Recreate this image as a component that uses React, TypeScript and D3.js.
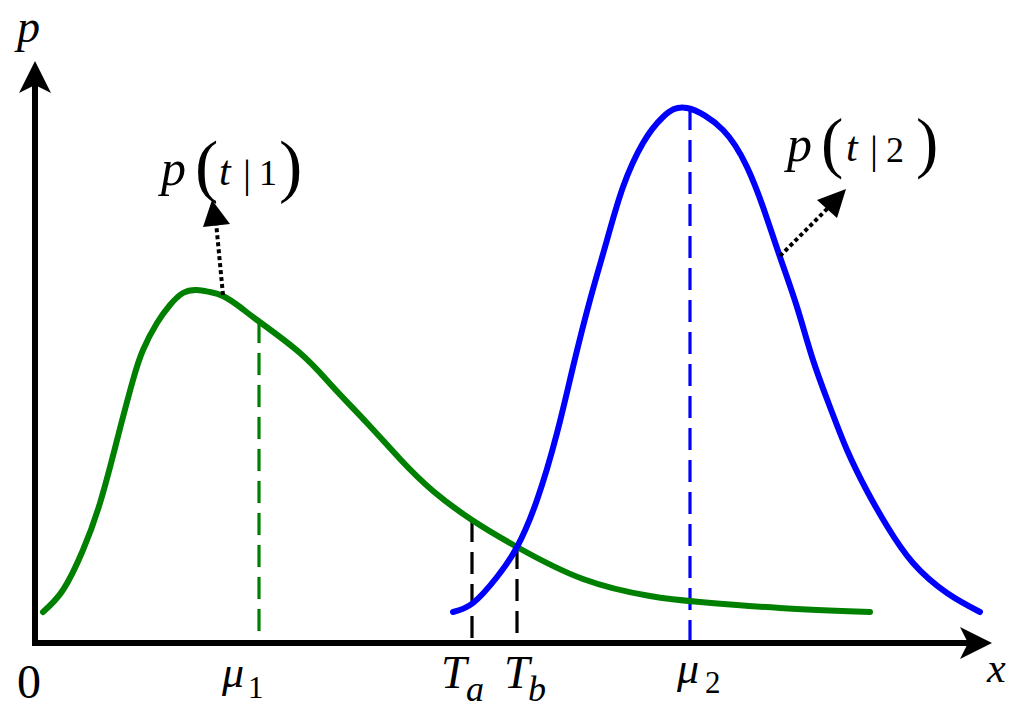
import React from "react";
import * as d3 from "d3";

// Curve p(t|1) (green), sampled points in data units
const greenX = [8, 28, 48, 65, 80, 88, 98, 108, 122, 135, 148, 162, 175, 188, 205, 222, 265, 298, 332, 365, 398, 437, 482, 548, 615, 665, 745, 835];
const greenY = [31, 53, 93, 140, 195, 226, 263, 293, 320, 338, 350, 353, 351, 347, 336, 323, 290, 256, 220, 184, 152, 123, 96, 64, 47, 41, 35, 31];

// Curve p(t|2) (blue)
const blueX = [418, 438, 462, 482, 502, 522, 538, 555, 572, 588, 608, 628, 652, 688, 712, 728, 745, 762, 778, 795, 812, 832, 852, 878, 912, 945];
const blueY = [31, 40, 66, 96, 143, 210, 276, 343, 403, 456, 500, 526, 535, 513, 476, 436, 386, 336, 283, 236, 193, 152, 117, 80, 50, 31];

// Reference vertical lines: position, height, colour
const markerNames = ["mu1", "Ta", "Tb", "mu2"];
const markerX = [224, 437, 482, 655];
const markerTop = [322, 123, 96, 535];
const markerColor = ["#008000", "#000000", "#000000", "#0000ff"];

const W = 1024;
const H = 712;

const x = d3.scaleLinear().domain([0, 957]).range([35, 992]);
const y = d3.scaleLinear().domain([0, 582]).range([643, 61]);

const line = d3
  .line<[number, number]>()
  .x((d) => x(d[0]))
  .y((d) => y(d[1]))
  .curve(d3.curveNatural);

const serif = "'Liberation Serif', 'Times New Roman', serif";

export default function App() {
  const green: [number, number][] = greenX.map((v, i) => [v, greenY[i]]);
  const blue: [number, number][] = blueX.map((v, i) => [v, blueY[i]]);
  const x0 = x(0);
  const y0 = y(0);
  const xEnd = x(957);
  const yEnd = y(582);

  const it = { fontFamily: serif, fontStyle: "italic" as const };
  const rm = { fontFamily: serif };

  return (
    <svg
      width={W}
      height={H}
      viewBox={`0 0 ${W} ${H}`}
      style={{ position: "absolute", left: 0, top: 0, background: "#fff" }}
    >
      <rect x={0} y={0} width={W} height={H} fill="#fff" />
      {markerX.map((mx, i) => (
        <line
          key={markerNames[i]}
          x1={x(mx)}
          x2={x(mx)}
          y1={y(markerTop[i])}
          y2={y0}
          stroke={markerColor[i]}
          strokeWidth={3.2}
          strokeDasharray="22,10"
        />
      ))}
      <path d={line(green) || ""} fill="none" stroke="#008000" strokeWidth={6} strokeLinecap="round" />
      <path d={line(blue) || ""} fill="none" stroke="#0000ff" strokeWidth={6} strokeLinecap="round" />

      <line x1={x0} x2={xEnd - 20} y1={y0} y2={y0} stroke="#000" strokeWidth={6} />
      <line x1={x0} x2={x0} y1={y0 + 3} y2={yEnd + 20} stroke="#000" strokeWidth={6} />
      <path
        d={`M${xEnd},${y0} L${xEnd - 32},${y0 - 16} L${xEnd - 24},${y0} L${xEnd - 32},${y0 + 16} Z`}
        fill="#000"
      />
      <path
        d={`M${x0},${yEnd} L${x0 - 16},${yEnd + 32} L${x0},${yEnd + 24} L${x0 + 16},${yEnd + 32} Z`}
        fill="#000"
      />

      <line x1={223} y1={295} x2={216} y2={222} stroke="#000" strokeWidth={4} strokeDasharray="4,3" />
      <path d="M212,200 L203,227 L230,224 Z" fill="#000" />
      <line x1={780} y1={256} x2={828} y2={208} stroke="#000" strokeWidth={4} strokeDasharray="4,3" />
      <path d="M846,189 L817,200 L837,218 Z" fill="#000" />

      <g fill="#000">
        <text x={17} y={42} fontSize={46} style={it}>p</text>
        <text x={987} y={682} fontSize={42} style={it}>x</text>
        <text x={17} y={698} fontSize={48} style={rm}>0</text>

        <text x={222} y={687} fontSize={44} style={it}>μ</text>
        <text x={248} y={698} fontSize={31} style={rm}>1</text>

        <text x={441} y={688} fontSize={46} style={it}>T</text>
        <text x={466} y={701} fontSize={36} style={it}>a</text>

        <text x={504} y={688} fontSize={46} style={it}>T</text>
        <text x={528} y={701} fontSize={36} style={it}>b</text>

        <text x={677} y={683} fontSize={44} style={it}>μ</text>
        <text x={705} y={693} fontSize={31} style={rm}>2</text>

        <text x={161} y={185} fontSize={50} style={it}>p</text>
        <text x={195} y={189} fontSize={70} style={rm}>(</text>
        <text x={219} y={185} fontSize={42} style={it}>t</text>
        <text x={243} y={187} fontSize={40} style={rm}>|</text>
        <text x={259} y={185} fontSize={36} style={rm}>1</text>
        <text x={279} y={189} fontSize={70} style={rm}>)</text>

        <text x={787} y={161} fontSize={50} style={it}>p</text>
        <text x={821} y={165} fontSize={67} style={rm}>(</text>
        <text x={846} y={161} fontSize={42} style={it}>t</text>
        <text x={870} y={163} fontSize={40} style={rm}>|</text>
        <text x={886} y={162} fontSize={36} style={rm}>2</text>
        <text x={916} y={165} fontSize={67} style={rm}>)</text>
      </g>
    </svg>
  );
}
